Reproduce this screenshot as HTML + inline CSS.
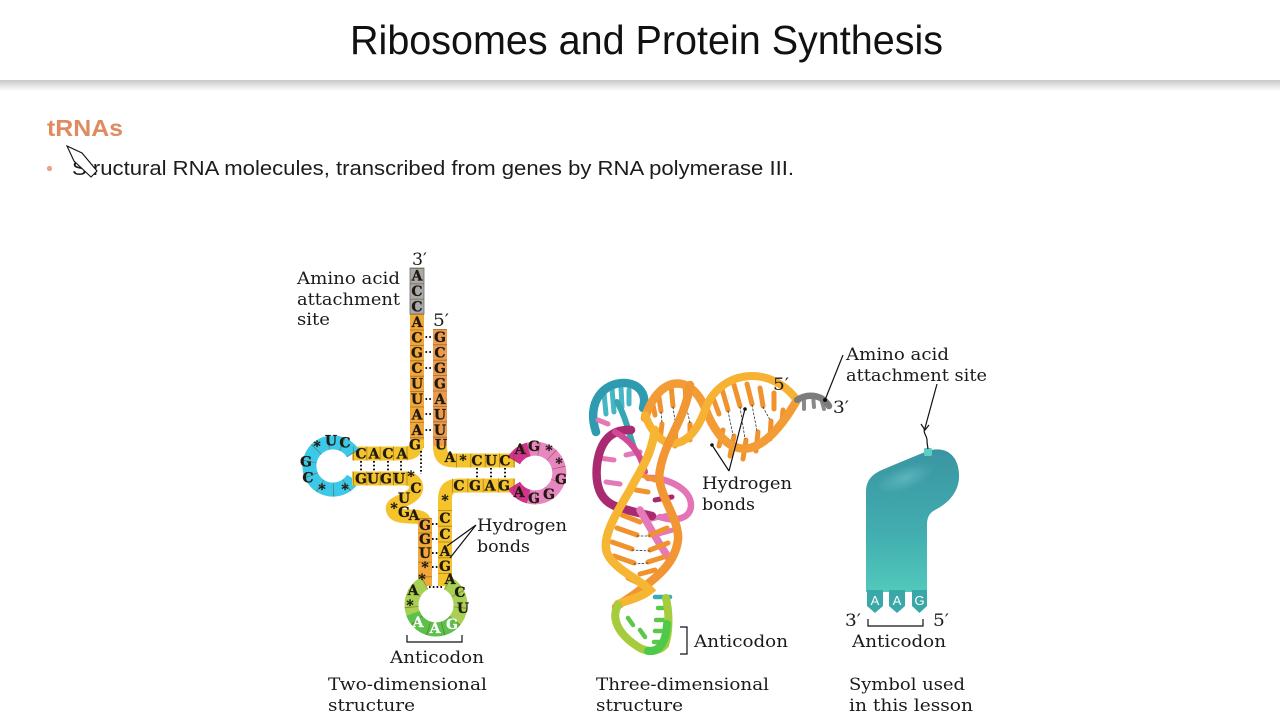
<!DOCTYPE html>
<html><head><meta charset="utf-8"><style>
html,body{margin:0;padding:0;background:#fff;}
svg{display:block;}
.lab{font-family:"DejaVu Serif","Liberation Serif",serif;font-size:17px;fill:#1a1a1a;}
.nt{font-family:"DejaVu Serif","Liberation Serif",serif;font-size:14px;font-weight:bold;fill:#1e1a10;text-anchor:middle;stroke:#1e1a10;stroke-width:0.25;}
.nw{fill:#fff;stroke:#fff;}
</style></head><body>
<svg width="1280" height="720" viewBox="0 0 1280 720" xmlns="http://www.w3.org/2000/svg">
<defs>
<linearGradient id="sh" x1="0" y1="0" x2="0" y2="1"><stop offset="0" stop-color="#000" stop-opacity="0.22"/><stop offset="1" stop-color="#000" stop-opacity="0"/></linearGradient>
<linearGradient id="teal" x1="0" y1="0" x2="0" y2="1"><stop offset="0" stop-color="#3a95a2"/><stop offset="0.6" stop-color="#42aeb0"/><stop offset="1" stop-color="#52c9bb"/></linearGradient>
<radialGradient id="hl" cx="0.5" cy="0.5" r="0.5"><stop offset="0" stop-color="#7fd0d6" stop-opacity="0.45"/><stop offset="1" stop-color="#7fd0d6" stop-opacity="0"/></radialGradient>
</defs>
<rect width="1280" height="720" fill="#fff"/>
<!-- header -->
<rect x="0" y="0" width="1280" height="80" fill="#fff"/>
<rect x="0" y="80" width="1280" height="11" fill="url(#sh)"/>
<text x="350" y="54" font-family="Liberation Sans, sans-serif" font-size="41" fill="#111" textLength="593" lengthAdjust="spacingAndGlyphs">Ribosomes and Protein Synthesis</text>

<text x="47" y="136" font-family="Liberation Sans, sans-serif" font-size="23" font-weight="bold" fill="#df8a60" textLength="76" lengthAdjust="spacingAndGlyphs">tRNAs</text>
<circle cx="49.5" cy="168.5" r="2.6" fill="#e9a385"/>
<text x="72" y="175" font-family="Liberation Sans, sans-serif" font-size="20" fill="#1c1c1c" textLength="722" lengthAdjust="spacingAndGlyphs">Structural RNA molecules, transcribed from genes by RNA polymerase III.</text>
<!-- cursor -->
<polygon points="67,146 82,153 97,171 91,177 74,161" fill="#fff" stroke="#111" stroke-width="1.1"/>

<!-- ============ 2D tRNA ============ -->
<g fill="none" stroke-linecap="butt">
<rect x="410" y="268" width="14" height="46" fill="#a9a9a9" stroke="#6f6f6f" stroke-width="0.8"/>
<rect x="410" y="314" width="14" height="134" fill="#f2a73a"/>
<rect x="433" y="329" width="14" height="120" fill="#ec9a4e"/>
<path d="M417,440 C417,453 410,453.5 400,453.5 L352,453.5" stroke="#f5c42c" stroke-width="14"/>
<path d="M353,453.5 A23.6,23.6 0 1 0 353,478.5" stroke="#3cc8e8" stroke-width="14"/>
<path d="M352,478.5 L405,478.5 C417,478.5 420,490 411,496 C403,502 391,503 393,510 C395,518 410,516 418,517 C424,518 425,522 425,526" stroke="#f5c42c" stroke-width="14"/>
<rect x="418" y="518" width="14" height="68" fill="#f2a73a"/>
<path d="M440,446 C440,460 447,460.5 457,460.5 L515,460.5" stroke="#f5c42c" stroke-width="14"/>
<path d="M445,586 L445,500 C445,488 450,485.5 460,485.5 L515,485.5" stroke="#f5c42c" stroke-width="14"/>
<path d="M514,460.5 A24.4,24.4 0 1 1 514,485.5" stroke="#e886c2" stroke-width="14"/>
<path d="M514,460.5 A24.4,24.4 0 0 1 528.7,449.4" stroke="#d2338c" stroke-width="14"/>
<path d="M528.7,496.6 A24.4,24.4 0 0 1 514,485.5" stroke="#d2338c" stroke-width="14"/>
<path d="M425,583 A24.5,24.5 0 1 0 447,583" stroke="#a8d052" stroke-width="14"/>
<path d="M413,613.4 A24.5,24.5 0 0 0 454.8,620.7" stroke="#5cc04c" stroke-width="14"/>
<g stroke="#6b4a10" stroke-opacity="0.55" stroke-width="14">
<line x1="417" y1="268" x2="417" y2="448" stroke-dasharray="0.8 14.6"/>
<line x1="440" y1="329" x2="440" y2="449" stroke-dasharray="0.8 14.6"/>
<line x1="353" y1="453.5" x2="410" y2="453.5" stroke-dasharray="0.8 12.6"/>
<line x1="353" y1="478.5" x2="410" y2="478.5" stroke-dasharray="0.8 12.6"/>
<line x1="456" y1="460.5" x2="515" y2="460.5" stroke-dasharray="0.8 13.6"/>
<line x1="452" y1="485.5" x2="515" y2="485.5" stroke-dasharray="0.8 14.6"/>
<line x1="425" y1="518" x2="425" y2="586" stroke-dasharray="0.8 13.8"/>
<line x1="445" y1="510" x2="445" y2="586" stroke-dasharray="0.8 15"/>
<path d="M353,453.5 A23.6,23.6 0 1 0 353,478.5" stroke-dasharray="0.8 13.2"/>
<path d="M514,460.5 A24.4,24.4 0 1 1 514,485.5" stroke-dasharray="0.8 13.6"/>
<path d="M425,583 A24.5,24.5 0 1 0 447,583" stroke-dasharray="0.8 13.6"/>
</g>
<g stroke="#111" stroke-width="2" stroke-dasharray="1.6 2.2">
<line x1="425.5" y1="337" x2="432" y2="337"/><line x1="425.5" y1="352" x2="432" y2="352"/><line x1="425.5" y1="368" x2="432" y2="368"/>
<line x1="425.5" y1="399" x2="432" y2="399"/><line x1="425.5" y1="414" x2="432" y2="414"/><line x1="425.5" y1="430" x2="432" y2="430"/>
<line x1="421" y1="451" x2="421" y2="474"/>
<line x1="361" y1="461" x2="361" y2="472"/><line x1="374" y1="461" x2="374" y2="472"/><line x1="388" y1="461" x2="388" y2="472"/><line x1="401" y1="461" x2="401" y2="472"/>
<line x1="477" y1="468" x2="477" y2="479"/><line x1="491" y1="468" x2="491" y2="479"/><line x1="505" y1="468" x2="505" y2="479"/>
<line x1="432" y1="524" x2="438" y2="524"/><line x1="432" y1="539" x2="438" y2="539"/><line x1="432" y1="553" x2="438" y2="553"/><line x1="432" y1="567" x2="438" y2="567"/>
<line x1="429" y1="587" x2="443" y2="587"/>
</g>
</g>
<g class="nt">
<text x="417" y="280.5">A</text><text x="417" y="296">C</text><text x="417" y="311.5">C</text>
<text x="417" y="327">A</text><text x="417" y="342.5">C</text><text x="417" y="357.5">G</text><text x="417" y="373">C</text><text x="417" y="388.5">U</text><text x="417" y="404">U</text><text x="417" y="419.5">A</text><text x="417" y="435">A</text><text x="415" y="449.5">G</text>
<text x="440" y="342">G</text><text x="440" y="357.5">C</text><text x="440" y="373">G</text><text x="440" y="388.5">G</text><text x="440" y="404">A</text><text x="440" y="419.5">U</text><text x="440" y="435">U</text><text x="441" y="449.5">U</text>
<text x="361" y="458.5">C</text><text x="374" y="458.5">A</text><text x="388" y="458.5">C</text><text x="402" y="458.5">A</text>
<text x="345" y="447.5">C</text><text x="331" y="445.5">U</text><text x="317" y="451">*</text><text x="306" y="466.5">G</text><text x="308" y="482.5">C</text><text x="322" y="494">*</text><text x="345" y="494">*</text>
<text x="361" y="483.5">G</text><text x="373" y="483.5">U</text><text x="386" y="483.5">G</text><text x="399" y="483.5">U</text><text x="411" y="481">*</text>
<text x="416" y="493">C</text><text x="404" y="503">U</text><text x="394" y="513">*</text><text x="404" y="517">G</text><text x="414" y="520">A</text>
<text x="425" y="530">G</text><text x="425" y="544">G</text><text x="425" y="558">U</text><text x="425" y="572">*</text><text x="422" y="584">*</text>
<text x="445" y="505">*</text><text x="445" y="523">C</text><text x="445" y="539">C</text><text x="445" y="556">A</text><text x="445" y="571">G</text><text x="450" y="584">A</text>
<text x="413" y="595">A</text><text x="410" y="610">*</text><text x="460" y="597">C</text><text x="463" y="613">U</text>
<text x="418" y="627" class="nt nw">A</text><text x="435" y="633" class="nt nw">A</text><text x="452" y="629" class="nt nw">G</text>
<text x="450" y="462">A</text><text x="463" y="465">*</text><text x="477" y="465.5">C</text><text x="491" y="465.5">U</text><text x="505" y="465.5">C</text>
<text x="459" y="490.5">C</text><text x="475" y="490.5">G</text><text x="490" y="490.5">A</text><text x="504" y="490.5">G</text>
<text x="520" y="454">A</text><text x="534" y="451">G</text><text x="549" y="455">*</text><text x="559" y="468">*</text><text x="561" y="484">G</text><text x="549" y="499">G</text><text x="534" y="503">G</text><text x="519" y="497">A</text>
</g>
<g class="lab">
<text x="412" y="265" textLength="15" lengthAdjust="spacingAndGlyphs">3′</text>
<text x="297" y="284" textLength="103" lengthAdjust="spacingAndGlyphs">Amino acid</text>
<text x="297" y="305" textLength="103" lengthAdjust="spacingAndGlyphs">attachment</text>
<text x="297" y="325" textLength="33" lengthAdjust="spacingAndGlyphs">site</text>
<text x="433" y="326" textLength="16" lengthAdjust="spacingAndGlyphs">5′</text>
<text x="477" y="531" textLength="90" lengthAdjust="spacingAndGlyphs">Hydrogen</text>
<text x="477" y="552" textLength="53" lengthAdjust="spacingAndGlyphs">bonds</text>
<text x="390" y="663" textLength="94" lengthAdjust="spacingAndGlyphs">Anticodon</text>
<text x="328" y="690" textLength="159" lengthAdjust="spacingAndGlyphs">Two-dimensional</text>
<text x="328" y="711" textLength="87" lengthAdjust="spacingAndGlyphs">structure</text>
</g>
<g stroke="#111" stroke-width="1.2" fill="none">
<path d="M476,525 L447,546 M476,525 L450,558"/>
<path d="M407,635 L407,642 L462,642 L462,635"/>
</g>

<!-- ============ 3D tRNA ============ -->
<g fill="none" stroke-linecap="round">
<!-- rungs horizontal helix -->
<g stroke="#f0922e" stroke-width="5">
<line x1="652" y1="400" x2="655" y2="415"/><line x1="658" y1="391" x2="661" y2="411"/><line x1="671" y1="385" x2="673" y2="406"/><line x1="685" y1="384" x2="686" y2="404"/>
<line x1="660" y1="440" x2="662" y2="424"/><line x1="675" y1="446" x2="676" y2="429"/><line x1="690" y1="440" x2="690" y2="424"/>
<line x1="713" y1="398" x2="719" y2="414"/><line x1="722" y1="389" x2="728" y2="410"/><line x1="734" y1="385" x2="740" y2="406"/><line x1="747" y1="384" x2="752" y2="404"/><line x1="760" y1="388" x2="763" y2="406"/><line x1="774" y1="393" x2="774" y2="409"/>
<line x1="719" y1="446" x2="723" y2="430"/><line x1="730" y1="456" x2="734" y2="436"/><line x1="743" y1="459" x2="746" y2="440"/><line x1="756" y1="451" x2="758" y2="432"/><line x1="770" y1="439" x2="771" y2="421"/><line x1="782" y1="423" x2="783" y2="410"/>
</g>
<g stroke="#333" stroke-width="0.8" stroke-dasharray="2 2">
<line x1="728" y1="411" x2="733" y2="435"/><line x1="740" y1="407" x2="745" y2="439"/><line x1="752" y1="405" x2="757" y2="431"/><line x1="763" y1="407" x2="770" y2="420"/>
<line x1="661" y1="412" x2="662" y2="423"/><line x1="673" y1="407" x2="676" y2="428"/><line x1="686" y1="405" x2="690" y2="423"/>
</g>
<!-- teal -->
<g stroke="#46b6c4" stroke-width="5">
<line x1="604" y1="393" x2="606" y2="414"/><line x1="612" y1="389" x2="614" y2="412"/><line x1="621" y1="388" x2="622" y2="407"/><line x1="629" y1="390" x2="629" y2="404"/>
</g>
<path d="M596,432 C586,402 604,382 625,383 C640,384 647,395 643,408" stroke="#2f9bb0" stroke-width="8.5"/>
<path d="M617,402 C625,415 628,430 634,448" stroke="#35a7b2" stroke-width="6"/>
<!-- magenta / pink -->
<g stroke="#e27ab8" stroke-width="5">
<line x1="598" y1="420" x2="608" y2="424"/><line x1="599" y1="458" x2="614" y2="460"/><line x1="606" y1="482" x2="620" y2="484"/>
<line x1="626" y1="455" x2="640" y2="452"/>
<line x1="648" y1="520" x2="668" y2="515"/><line x1="655" y1="535" x2="673" y2="530"/>
</g>
<path d="M631,430 C612,429 600,440 597,465 C595,485 600,500 615,506 C628,511 640,513 652,516" stroke="#a92a70" stroke-width="8.5"/>
<path d="M615,432 C630,440 640,452 645,472" stroke="#d04a95" stroke-width="6"/>
<path d="M648,478 C665,477 691,488 691,505 C691,519 675,522 660,517" stroke="#e374b6" stroke-width="6.5"/>
<path d="M640,510 C650,528 660,545 670,560" stroke="#e67ab9" stroke-width="7.5"/>
<line x1="655" y1="500" x2="672" y2="497" stroke="#a92a70" stroke-width="5"/>
<!-- orange horizontal helix strands -->
<path d="M645,418 C658,376 690,372 705,408 C720,448 752,478 797,400" stroke="#f39b34" stroke-width="8.5"/>
<path d="M645,415 C660,455 690,452 705,410 C718,372 768,362 797,400" stroke="#f7b233" stroke-width="8"/>
<!-- vertical helix rungs -->
<g stroke="#f0922e" stroke-width="5">
<line x1="622" y1="515" x2="640" y2="522"/><line x1="617" y1="528" x2="637" y2="535"/><line x1="612" y1="542" x2="632" y2="549"/><line x1="614" y1="556" x2="634" y2="563"/>
<line x1="667" y1="528" x2="650" y2="535"/><line x1="668" y1="543" x2="650" y2="550"/><line x1="664" y1="557" x2="648" y2="562"/><line x1="655" y1="570" x2="640" y2="574"/>
<line x1="628" y1="578" x2="640" y2="584"/>
<line x1="642" y1="475" x2="655" y2="480"/><line x1="636" y1="490" x2="648" y2="492"/>
</g>
<g stroke="#333" stroke-width="0.8" stroke-dasharray="2 2">
<line x1="637" y1="536" x2="650" y2="536"/><line x1="632" y1="550" x2="650" y2="551"/><line x1="634" y1="564" x2="648" y2="563"/>
</g>
<!-- vertical helix strands -->
<path d="M690,385 C685,420 665,440 660,470 C655,492 680,518 678,540 C675,562 660,575 640,590 C630,598 622,602 616,607" stroke="#f29533" stroke-width="8.5"/>
<path d="M655,430 C650,460 640,470 630,490 C615,515 600,540 608,555 C616,570 640,580 650,590 C640,598 628,600 618,604" stroke="#f6b633" stroke-width="8.5"/>
<!-- green anticodon loop -->
<g stroke="#5cc84a" stroke-width="4.5">
<line x1="658" y1="608" x2="669" y2="608"/><line x1="656" y1="620" x2="667" y2="620"/><line x1="655" y1="631" x2="666" y2="631"/><line x1="654" y1="642" x2="665" y2="642"/>
<line x1="628" y1="618" x2="633" y2="625"/><line x1="640" y1="630" x2="645" y2="637"/>
</g>
<line x1="655" y1="597" x2="670" y2="597" stroke="#3aa9b8" stroke-width="4.5"/>
<path d="M618,605 C610,620 620,636 640,648 C650,653 660,651 665,645 C670,630 669,612 666,598" stroke="#a5cc3c" stroke-width="8"/>
<path d="M648,651 C660,652 666,642 667,624" stroke="#4ec94a" stroke-width="8"/>
<!-- grey tail -->
<g stroke="#8a8a8a" stroke-width="4"><line x1="804" y1="397" x2="804" y2="409"/><line x1="813" y1="395" x2="814" y2="407"/><line x1="821" y1="398" x2="824" y2="409"/></g>
<path d="M797,400 C806,394 821,393 829,406" stroke="#7c7c7c" stroke-width="6.5"/>
</g>
<g stroke="#111" stroke-width="1.2" fill="none">
<path d="M729,471 L712,445 M729,471 L745,409"/>
<path d="M843,355 L825,400"/>
<path d="M680,627 L687,627 L687,654 L680,654"/>
</g>
<circle cx="712" cy="445" r="1.8" fill="#111"/><circle cx="745" cy="409" r="1.8" fill="#111"/><circle cx="825" cy="400" r="2" fill="#111"/>
<g class="lab">
<text x="773" y="390" textLength="16" lengthAdjust="spacingAndGlyphs">5′</text>
<text x="833" y="413" textLength="16" lengthAdjust="spacingAndGlyphs">3′</text>
<text x="702" y="489" textLength="90" lengthAdjust="spacingAndGlyphs">Hydrogen</text>
<text x="702" y="510" textLength="53" lengthAdjust="spacingAndGlyphs">bonds</text>
<text x="694" y="647" textLength="94" lengthAdjust="spacingAndGlyphs">Anticodon</text>
<text x="596" y="690" textLength="173" lengthAdjust="spacingAndGlyphs">Three-dimensional</text>
<text x="596" y="711" textLength="87" lengthAdjust="spacingAndGlyphs">structure</text>
</g>

<!-- ============ Symbol ============ -->
<path d="M866,592 L866,492 C866,480 872,474 884,469 L925,452 C945,444 960,455 959,478 C958,495 945,505 935,510 C929,513 927,518 927,525 L927,592 Z" fill="url(#teal)"/>
<ellipse cx="905" cy="478" rx="30" ry="12" fill="url(#hl)" transform="rotate(-20 905 478)"/>
<rect x="924" y="448" width="8" height="8" rx="1.5" fill="#5fcfc3"/>
<g fill="#3aa7a9">
<path d="M867,590 L883,590 L883,606 L875,613 L867,606 Z"/>
<path d="M889,590 L905,590 L905,606 L897,613 L889,606 Z"/>
<path d="M912,590 L927,590 L927,606 L919.5,613 L912,606 Z"/>
</g>
<g font-family="Liberation Sans, sans-serif" font-size="13" fill="#fff" text-anchor="middle">
<text x="875" y="605">A</text><text x="897" y="605">A</text><text x="919.5" y="605">G</text>
</g>
<g stroke="#111" stroke-width="1.2" fill="none">
<path d="M937,384 L925,428 C922,433 928,436 927,442 L928,449"/>
<path d="M921,424 L925,430 L929,425"/>
<path d="M868,619 L868,626 L923,626 L923,619"/>
</g>
<g class="lab">
<text x="846" y="360" textLength="103" lengthAdjust="spacingAndGlyphs">Amino acid</text>
<text x="846" y="381" textLength="141" lengthAdjust="spacingAndGlyphs">attachment site</text>
<text x="845" y="626" textLength="16" lengthAdjust="spacingAndGlyphs">3′</text>
<text x="933" y="626" textLength="16" lengthAdjust="spacingAndGlyphs">5′</text>
<text x="852" y="647" textLength="94" lengthAdjust="spacingAndGlyphs">Anticodon</text>
<text x="849" y="690" textLength="116" lengthAdjust="spacingAndGlyphs">Symbol used</text>
<text x="849" y="711" textLength="124" lengthAdjust="spacingAndGlyphs">in this lesson</text>
</g>
</svg>
</body></html>
